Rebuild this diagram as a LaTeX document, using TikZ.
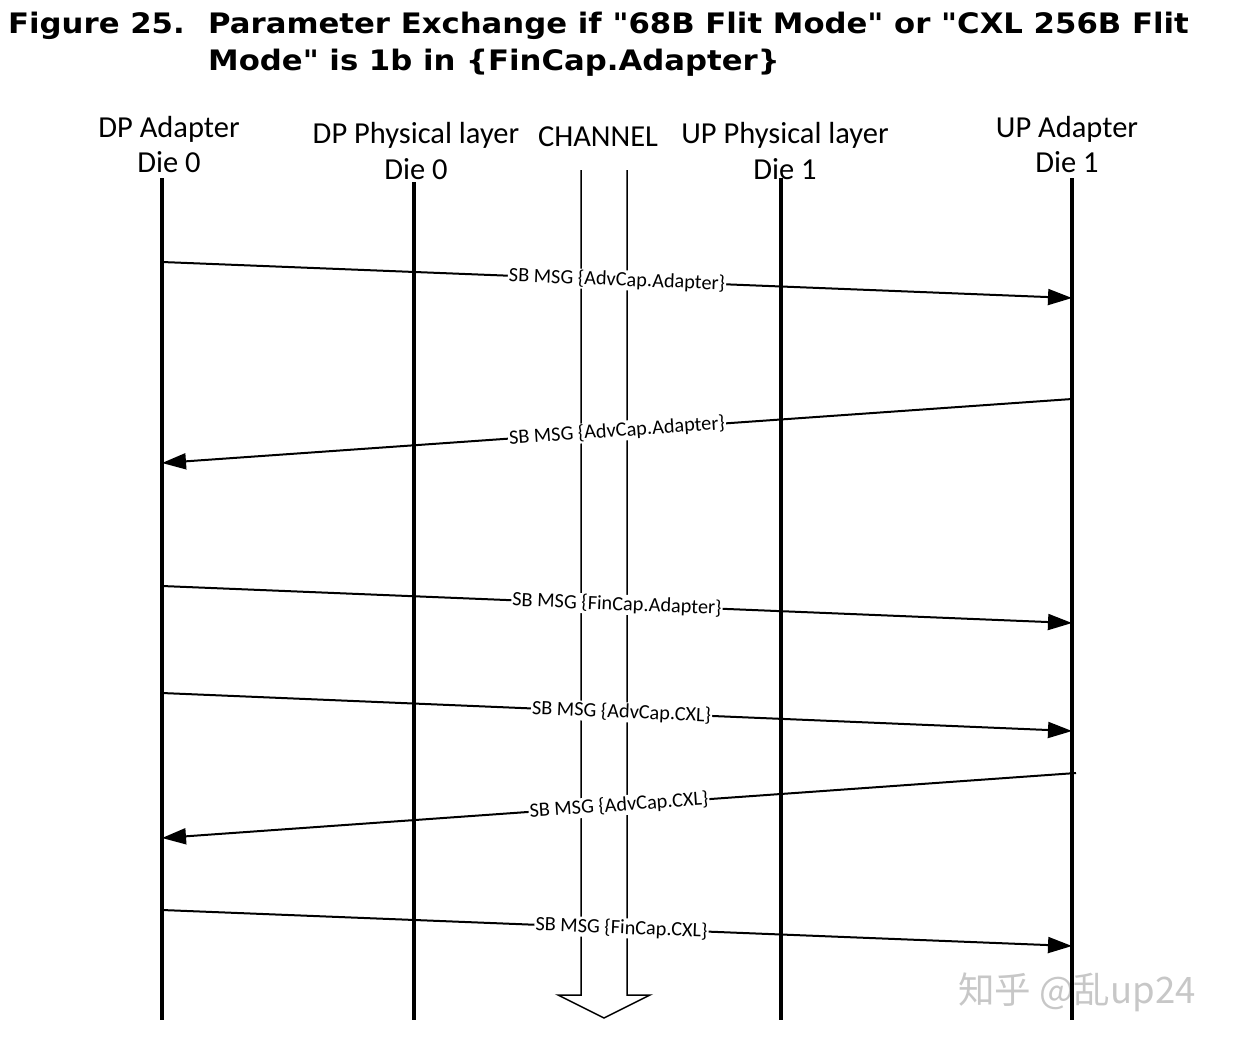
\documentclass[tikz,border=0pt]{standalone}
\usepackage{fontspec}
\setmainfont{Carlito}
\newfontfamily\titlefont{DejaVu Sans}[FakeStretch=1.09]
\newfontfamily\cjkfont{Noto Sans CJK SC}
\usetikzlibrary{arrows.meta}
\begin{document}
\begin{tikzpicture}[x=1pt,y=-1pt,
  life/.style={line width=3.5pt},
  chan/.style={line width=1.5pt, line join=miter},
  msg/.style={line width=2pt, -{Triangle[length=24pt,width=16pt]}},
  lbl/.style={sloped, fill=white, inner sep=1pt, font=\fontsize{20.3}{21}\selectfont},
  hdr/.style={anchor=base, inner sep=0pt, font=\fontsize{30.5}{32}\selectfont},
  ttl/.style={anchor=base west, inner sep=0pt, font=\titlefont\bfseries\fontsize{28.2}{37}\selectfont}]
\useasboundingbox (0,0) rectangle (1233,1044);
% title
\node[ttl] (fig) at (8,33) {Figure 25.};
\node[ttl] (title1) at (208,33) {Parameter Exchange if "68B Flit Mode" or "CXL 256B Flit};
\node[ttl] (title2) at (208,70) {Mode" is 1b in \{FinCap.Adapter\}};
% watermark
\node[anchor=base west, inner sep=0pt, text=black!22, font=\cjkfont\fontsize{36.5}{38}\selectfont] (wm) at (958,1003) {知乎 @乱up24};
% headers
\node[hdr] (h1a) at (169,137) {DP Adapter};
\node[hdr] (h1b) at (169,172) {Die 0};
\node[hdr] (h2a) at (416,143) {DP Physical layer};
\node[hdr] (h2b) at (416,179) {Die 0};
\node[hdr] (h3) at (598,146) {CHANNEL};
\node[hdr] (h4a) at (785,143) {UP Physical layer};
\node[hdr] (h4b) at (785,179) {Die 1};
\node[hdr] (h5a) at (1067,137) {UP Adapter};
\node[hdr] (h5b) at (1067,172) {Die 1};
% lifelines
\coordinate (a0) at (162,178); \coordinate (a1) at (162,1020);
\coordinate (p0) at (414,182); \coordinate (p1) at (414,1020);
\coordinate (q0) at (781,178); \coordinate (q1) at (781,1020);
\coordinate (b0) at (1072,178); \coordinate (b1) at (1072,1020);
\draw[life] (a0) -- (a1);
\draw[life] (p0) -- (p1);
\draw[life] (q0) -- (q1);
\draw[life] (b0) -- (b1);
% channel
\draw[chan] (581,170) -- (581,995) -- (558,995) -- (604,1018) -- (650,995) -- (627,995) -- (627,170);
% messages
\coordinate (m1s) at (162,262); \coordinate (m1e) at (1072,298);
\coordinate (m2s) at (1072,399); \coordinate (m2e) at (162,463);
\coordinate (m3s) at (162,586); \coordinate (m3e) at (1072,623);
\coordinate (m4s) at (162,693); \coordinate (m4e) at (1072,731);
\coordinate (m5s) at (1076,773); \coordinate (m5e) at (162,838);
\coordinate (m6s) at (162,910); \coordinate (m6e) at (1072,946);
\draw[msg] (m1s) -- node[lbl] (l1) {SB MSG \{AdvCap.Adapter\}} (m1e);
\draw[msg] (m2s) -- node[lbl] (l2) {SB MSG \{AdvCap.Adapter\}} (m2e);
\draw[msg] (m3s) -- node[lbl] (l3) {SB MSG \{FinCap.Adapter\}} (m3e);
\draw[msg] (m4s) -- node[lbl, pos=0.505] (l4) {SB MSG \{AdvCap.CXL\}} (m4e);
\draw[msg] (m5s) -- node[lbl, pos=0.5] (l5) {SB MSG \{AdvCap.CXL\}} (m5e);
\draw[msg] (m6s) -- node[lbl, pos=0.505] (l6) {SB MSG \{FinCap.CXL\}} (m6e);
\end{tikzpicture}
\end{document}
